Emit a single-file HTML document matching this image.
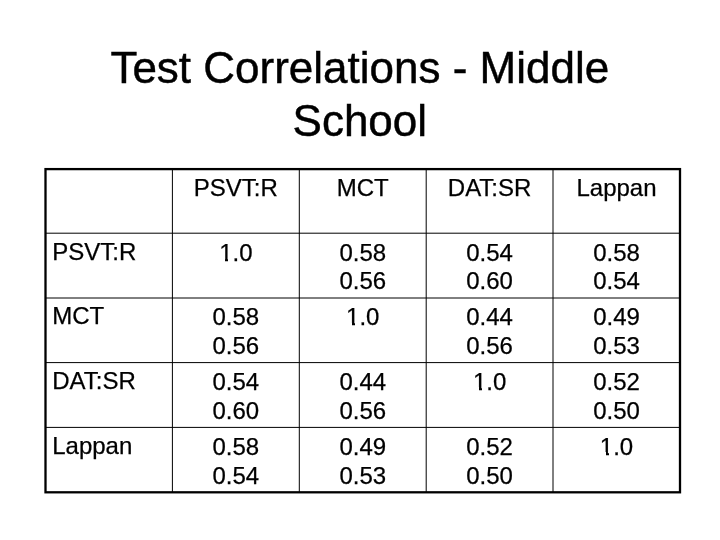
<!DOCTYPE html>
<html><head><meta charset="utf-8">
<style>
html,body{margin:0;padding:0;background:#fff;}
body{width:720px;height:540px;position:relative;overflow:hidden;font-family:"Liberation Sans",Arial,sans-serif;color:#000;}
#title{position:absolute;left:-0.2px;top:40.8px;width:720px;text-align:center;font-size:44px;line-height:53.2px;white-space:nowrap;-webkit-text-stroke:0.45px #000;}
svg{position:absolute;left:0;top:0;}
.c{position:absolute;font-size:24px;line-height:28.8px;text-align:center;white-space:nowrap;-webkit-text-stroke:0.25px #000;}
.l{text-align:left;}
.one{position:relative;display:inline-block;}
.one::before,.one::after{content:"";position:absolute;background:#fff;top:19.4px;height:4.6px;}
.one::before{left:0;width:5.95px;}
.one::after{left:9.15px;width:4.2px;}
</style></head><body>
<div id="title">Test Correlations - Middle<br>School</div>
<svg width="720" height="540" viewBox="0 0 720 540">
<g stroke="#000" stroke-width="1" fill="none">
<line x1="172.4" y1="169.1" x2="172.4" y2="492.3"/>
<line x1="299.3" y1="169.1" x2="299.3" y2="492.3"/>
<line x1="426.2" y1="169.1" x2="426.2" y2="492.3"/>
<line x1="553.0" y1="169.1" x2="553.0" y2="492.3"/>
<line x1="45.5" y1="233.2" x2="680.0" y2="233.2"/>
<line x1="45.5" y1="298.0" x2="680.0" y2="298.0"/>
<line x1="45.5" y1="362.6" x2="680.0" y2="362.6"/>
<line x1="45.5" y1="427.4" x2="680.0" y2="427.4"/>
</g>
<rect x="45.5" y="169.1" width="634.5" height="323.20000000000005" fill="none" stroke="#000" stroke-width="2.3"/>
</svg>
<div class="c" style="left:172.40px;top:173.50px;width:126.90px">PSVT:R</div>
<div class="c" style="left:299.30px;top:173.50px;width:126.90px">MCT</div>
<div class="c" style="left:426.20px;top:173.50px;width:126.80px">DAT:SR</div>
<div class="c" style="left:553.00px;top:173.50px;width:127.00px">Lappan</div>
<div class="c l" style="left:52.20px;top:237.60px;width:120.20px">PSVT:R</div>
<div class="c" style="left:172.40px;top:238.60px;width:126.90px"><span class="one">1</span>.0</div>
<div class="c" style="left:299.30px;top:238.60px;width:126.90px">0.58<br>0.56</div>
<div class="c" style="left:426.20px;top:238.60px;width:126.80px">0.54<br>0.60</div>
<div class="c" style="left:553.00px;top:238.60px;width:127.00px">0.58<br>0.54</div>
<div class="c l" style="left:52.20px;top:302.40px;width:120.20px">MCT</div>
<div class="c" style="left:172.40px;top:303.40px;width:126.90px">0.58<br>0.56</div>
<div class="c" style="left:299.30px;top:303.40px;width:126.90px"><span class="one">1</span>.0</div>
<div class="c" style="left:426.20px;top:303.40px;width:126.80px">0.44<br>0.56</div>
<div class="c" style="left:553.00px;top:303.40px;width:127.00px">0.49<br>0.53</div>
<div class="c l" style="left:52.20px;top:367.00px;width:120.20px">DAT:SR</div>
<div class="c" style="left:172.40px;top:368.00px;width:126.90px">0.54<br>0.60</div>
<div class="c" style="left:299.30px;top:368.00px;width:126.90px">0.44<br>0.56</div>
<div class="c" style="left:426.20px;top:368.00px;width:126.80px"><span class="one">1</span>.0</div>
<div class="c" style="left:553.00px;top:368.00px;width:127.00px">0.52<br>0.50</div>
<div class="c l" style="left:52.20px;top:431.80px;width:120.20px">Lappan</div>
<div class="c" style="left:172.40px;top:432.80px;width:126.90px">0.58<br>0.54</div>
<div class="c" style="left:299.30px;top:432.80px;width:126.90px">0.49<br>0.53</div>
<div class="c" style="left:426.20px;top:432.80px;width:126.80px">0.52<br>0.50</div>
<div class="c" style="left:553.00px;top:432.80px;width:127.00px"><span class="one">1</span>.0</div>
</body></html>
